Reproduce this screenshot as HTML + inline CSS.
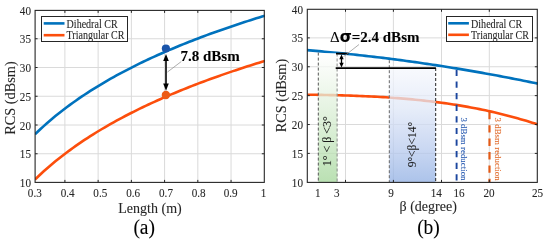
<!DOCTYPE html>
<html><head><meta charset="utf-8"><title>RCS figure</title>
<style>
html,body{margin:0;padding:0;background:#fff;width:550px;height:244px;overflow:hidden}
svg{display:block;filter:blur(0.35px)}
text{font-family:"Liberation Serif", "Times New Roman", serif;color:#262626;fill:currentColor;stroke:currentColor;stroke-width:0.2px;stroke-opacity:0.4}
</style></head><body>
<svg width="550" height="244" viewBox="0 0 550 244">
<defs>
<linearGradient id="gG" x1="0" y1="0" x2="0" y2="1">
<stop offset="0" stop-color="#ffffff"/><stop offset="0.2" stop-color="#f0f8ee"/><stop offset="0.6" stop-color="#cde9c7"/><stop offset="1" stop-color="#a3d699"/>
</linearGradient>
<linearGradient id="gB" x1="0" y1="0" x2="0" y2="1">
<stop offset="0" stop-color="#f6f8fd"/><stop offset="0.35" stop-color="#dfe7f7"/><stop offset="0.7" stop-color="#b9cbee"/><stop offset="1" stop-color="#90afe3"/>
</linearGradient>
<clipPath id="cL"><rect x="35" y="10" width="230" height="173"/></clipPath>
<clipPath id="cR"><rect x="307" y="9" width="231" height="174"/></clipPath>
</defs>
<rect width="550" height="244" fill="#fff"/>

<line x1="64.90" y1="10.4" x2="64.90" y2="182.4" stroke="#dadada" stroke-width="1"/>
<line x1="98.13" y1="10.4" x2="98.13" y2="182.4" stroke="#dadada" stroke-width="1"/>
<line x1="131.36" y1="10.4" x2="131.36" y2="182.4" stroke="#dadada" stroke-width="1"/>
<line x1="164.59" y1="10.4" x2="164.59" y2="182.4" stroke="#dadada" stroke-width="1"/>
<line x1="197.82" y1="10.4" x2="197.82" y2="182.4" stroke="#dadada" stroke-width="1"/>
<line x1="231.05" y1="10.4" x2="231.05" y2="182.4" stroke="#dadada" stroke-width="1"/>
<line x1="35.1" y1="38.75" x2="264.3" y2="38.75" stroke="#dadada" stroke-width="1"/>
<line x1="35.1" y1="67.50" x2="264.3" y2="67.50" stroke="#dadada" stroke-width="1"/>
<line x1="35.1" y1="96.25" x2="264.3" y2="96.25" stroke="#dadada" stroke-width="1"/>
<line x1="35.1" y1="125.00" x2="264.3" y2="125.00" stroke="#dadada" stroke-width="1"/>
<line x1="35.1" y1="153.75" x2="264.3" y2="153.75" stroke="#dadada" stroke-width="1"/>
<g clip-path="url(#cL)">
<path d="M35.00,134.29 L37.91,131.48 L40.82,128.75 L43.73,126.10 L46.65,123.51 L49.56,120.98 L52.47,118.52 L55.38,116.11 L58.29,113.76 L61.20,111.46 L64.11,109.21 L67.03,107.01 L69.94,104.86 L72.85,102.75 L75.76,100.69 L78.67,98.66 L81.58,96.68 L84.49,94.73 L87.41,92.82 L90.32,90.95 L93.23,89.11 L96.14,87.30 L99.05,85.52 L101.96,83.78 L104.87,82.06 L107.78,80.37 L110.70,78.71 L113.61,77.08 L116.52,75.47 L119.43,73.88 L122.34,72.33 L125.25,70.79 L128.16,69.28 L131.08,67.79 L133.99,66.32 L136.90,64.87 L139.81,63.44 L142.72,62.03 L145.63,60.64 L148.54,59.27 L151.46,57.92 L154.37,56.59 L157.28,55.27 L160.19,53.97 L163.10,52.69 L166.01,51.42 L168.92,50.17 L171.84,48.93 L174.75,47.71 L177.66,46.50 L180.57,45.30 L183.48,44.13 L186.39,42.96 L189.30,41.81 L192.22,40.67 L195.13,39.54 L198.04,38.42 L200.95,37.32 L203.86,36.23 L206.77,35.15 L209.68,34.08 L212.59,33.02 L215.51,31.98 L218.42,30.94 L221.33,29.92 L224.24,28.90 L227.15,27.90 L230.06,26.90 L232.97,25.91 L235.89,24.94 L238.80,23.97 L241.71,23.01 L244.62,22.06 L247.53,21.12 L250.44,20.19 L253.35,19.27 L256.27,18.36 L259.18,17.45 L262.09,16.55 L265.00,15.66" fill="none" stroke="#0072BD" stroke-width="2.6"/>
<path d="M35.00,179.51 L37.91,176.70 L40.82,173.97 L43.73,171.32 L46.65,168.73 L49.56,166.20 L52.47,163.74 L55.38,161.33 L58.29,158.98 L61.20,156.68 L64.11,154.43 L67.03,152.23 L69.94,150.08 L72.85,147.97 L75.76,145.91 L78.67,143.88 L81.58,141.90 L84.49,139.95 L87.41,138.04 L90.32,136.17 L93.23,134.33 L96.14,132.52 L99.05,130.74 L101.96,129.00 L104.87,127.28 L107.78,125.59 L110.70,123.93 L113.61,122.30 L116.52,120.69 L119.43,119.10 L122.34,117.55 L125.25,116.01 L128.16,114.50 L131.08,113.01 L133.99,111.54 L136.90,110.09 L139.81,108.66 L142.72,107.25 L145.63,105.86 L148.54,104.49 L151.46,103.14 L154.37,101.81 L157.28,100.49 L160.19,99.19 L163.10,97.91 L166.01,96.64 L168.92,95.39 L171.84,94.15 L174.75,92.93 L177.66,91.72 L180.57,90.52 L183.48,89.35 L186.39,88.18 L189.30,87.03 L192.22,85.89 L195.13,84.76 L198.04,83.64 L200.95,82.54 L203.86,81.45 L206.77,80.37 L209.68,79.30 L212.59,78.24 L215.51,77.20 L218.42,76.16 L221.33,75.14 L224.24,74.12 L227.15,73.12 L230.06,72.12 L232.97,71.13 L235.89,70.16 L238.80,69.19 L241.71,68.23 L244.62,67.28 L247.53,66.34 L250.44,65.41 L253.35,64.49 L256.27,63.58 L259.18,62.67 L262.09,61.77 L265.00,60.88" fill="none" stroke="#FC4E0C" stroke-width="2.6"/>
</g>
<rect x="35.1" y="10.4" width="229.20000000000002" height="172.0" fill="none" stroke="#262626" stroke-width="1.1"/>
<line x1="64.90" y1="182.4" x2="64.90" y2="179.9" stroke="#262626"/>
<line x1="64.90" y1="10.4" x2="64.90" y2="12.9" stroke="#262626"/>
<line x1="98.13" y1="182.4" x2="98.13" y2="179.9" stroke="#262626"/>
<line x1="98.13" y1="10.4" x2="98.13" y2="12.9" stroke="#262626"/>
<line x1="131.36" y1="182.4" x2="131.36" y2="179.9" stroke="#262626"/>
<line x1="131.36" y1="10.4" x2="131.36" y2="12.9" stroke="#262626"/>
<line x1="164.59" y1="182.4" x2="164.59" y2="179.9" stroke="#262626"/>
<line x1="164.59" y1="10.4" x2="164.59" y2="12.9" stroke="#262626"/>
<line x1="197.82" y1="182.4" x2="197.82" y2="179.9" stroke="#262626"/>
<line x1="197.82" y1="10.4" x2="197.82" y2="12.9" stroke="#262626"/>
<line x1="231.05" y1="182.4" x2="231.05" y2="179.9" stroke="#262626"/>
<line x1="231.05" y1="10.4" x2="231.05" y2="12.9" stroke="#262626"/>
<line x1="35.1" y1="38.75" x2="37.6" y2="38.75" stroke="#262626"/>
<line x1="264.3" y1="38.75" x2="261.8" y2="38.75" stroke="#262626"/>
<line x1="35.1" y1="67.50" x2="37.6" y2="67.50" stroke="#262626"/>
<line x1="264.3" y1="67.50" x2="261.8" y2="67.50" stroke="#262626"/>
<line x1="35.1" y1="96.25" x2="37.6" y2="96.25" stroke="#262626"/>
<line x1="264.3" y1="96.25" x2="261.8" y2="96.25" stroke="#262626"/>
<line x1="35.1" y1="125.00" x2="37.6" y2="125.00" stroke="#262626"/>
<line x1="264.3" y1="125.00" x2="261.8" y2="125.00" stroke="#262626"/>
<line x1="35.1" y1="153.75" x2="37.6" y2="153.75" stroke="#262626"/>
<line x1="264.3" y1="153.75" x2="261.8" y2="153.75" stroke="#262626"/>
<text transform="translate(34.8,196.6) scale(0.9,1)" font-size="12.4" text-anchor="middle">0.3</text>
<text transform="translate(67.6,196.6) scale(0.9,1)" font-size="12.4" text-anchor="middle">0.4</text>
<text transform="translate(100.3,196.6) scale(0.9,1)" font-size="12.4" text-anchor="middle">0.5</text>
<text transform="translate(133.2,196.6) scale(0.9,1)" font-size="12.4" text-anchor="middle">0.6</text>
<text transform="translate(166,196.6) scale(0.9,1)" font-size="12.4" text-anchor="middle">0.7</text>
<text transform="translate(198.7,196.6) scale(0.9,1)" font-size="12.4" text-anchor="middle">0.8</text>
<text transform="translate(230.7,196.6) scale(0.9,1)" font-size="12.4" text-anchor="middle">0.9</text>
<text transform="translate(263.5,196.6) scale(0.9,1)" font-size="12.4" text-anchor="middle">1</text>
<text transform="translate(31,14.50) scale(0.9,1)" font-size="12.4" text-anchor="end">40</text>
<text transform="translate(31,43.25) scale(0.9,1)" font-size="12.4" text-anchor="end">35</text>
<text transform="translate(31,72.00) scale(0.9,1)" font-size="12.4" text-anchor="end">30</text>
<text transform="translate(31,100.75) scale(0.9,1)" font-size="12.4" text-anchor="end">25</text>
<text transform="translate(31,129.50) scale(0.9,1)" font-size="12.4" text-anchor="end">20</text>
<text transform="translate(31,158.25) scale(0.9,1)" font-size="12.4" text-anchor="end">15</text>
<text transform="translate(31,187.00) scale(0.9,1)" font-size="12.4" text-anchor="end">10</text>
<text transform="translate(15.4,98.1) rotate(-90)" font-size="14.3" text-anchor="middle">RCS (dBsm)</text>
<text x="150" y="212.7" font-size="14" text-anchor="middle">Length (m)</text>
<text transform="translate(144.2,234.0) scale(1,1.05)" font-size="19.5" text-anchor="middle" style="color:#000">(a)</text>
<rect x="41.5" y="16.5" width="86" height="25" fill="#fff" stroke="#262626" stroke-width="1"/>
<line x1="43.7" y1="23.4" x2="64.5" y2="23.4" stroke="#0072BD" stroke-width="2.6"/>
<line x1="43.7" y1="35.2" x2="64.5" y2="35.2" stroke="#FC4E0C" stroke-width="2.6"/>
<text x="66.6" y="27.6" font-size="11.8" textLength="51" lengthAdjust="spacingAndGlyphs">Dihedral CR</text>
<text x="66.6" y="38.9" font-size="11.8" textLength="57.9" lengthAdjust="spacingAndGlyphs">Triangular CR</text>
<line x1="167.4" y1="72.1" x2="181.3" y2="61.5" stroke="#8a8a8a" stroke-width="0.7"/>
<line x1="166" y1="58" x2="166" y2="87" stroke="#000" stroke-width="1.6"/>
<path d="M166,54 L163.2,61 L168.8,61 Z" fill="#000"/>
<path d="M166,90.7 L163.2,83.5 L168.8,83.5 Z" fill="#000"/>
<circle cx="165.9" cy="48.5" r="4.1" fill="#1a55aa"/>
<circle cx="165.9" cy="95" r="4.2" fill="#ec5a14"/>
<text x="180.5" y="60.6" font-size="15" font-weight="bold" style="color:#000">7.8 dBsm</text>
<line x1="345.5" y1="9.3" x2="345.5" y2="182.4" stroke="#dadada" stroke-width="1"/>
<line x1="393.4" y1="9.3" x2="393.4" y2="182.4" stroke="#dadada" stroke-width="1"/>
<line x1="441.5" y1="9.3" x2="441.5" y2="182.4" stroke="#dadada" stroke-width="1"/>
<line x1="489.3" y1="9.3" x2="489.3" y2="182.4" stroke="#dadada" stroke-width="1"/>
<line x1="307.3" y1="37.88" x2="537.3" y2="37.88" stroke="#dadada" stroke-width="1"/>
<line x1="307.3" y1="66.76" x2="537.3" y2="66.76" stroke="#dadada" stroke-width="1"/>
<line x1="307.3" y1="95.64" x2="537.3" y2="95.64" stroke="#dadada" stroke-width="1"/>
<line x1="307.3" y1="124.52" x2="537.3" y2="124.52" stroke="#dadada" stroke-width="1"/>
<line x1="307.3" y1="153.40" x2="537.3" y2="153.40" stroke="#dadada" stroke-width="1"/>
<g clip-path="url(#cR)">
<path d="M307.00,50.16 L309.92,50.40 L312.85,50.64 L315.77,50.89 L318.70,51.15 L321.62,51.40 L324.54,51.67 L327.47,51.93 L330.39,52.20 L333.32,52.48 L336.24,52.76 L339.16,53.05 L342.09,53.34 L345.01,53.63 L347.94,53.93 L350.86,54.24 L353.78,54.55 L356.71,54.86 L359.63,55.18 L362.56,55.51 L365.48,55.84 L368.41,56.17 L371.33,56.51 L374.25,56.85 L377.18,57.20 L380.10,57.55 L383.03,57.91 L385.95,58.27 L388.87,58.64 L391.80,59.01 L394.72,59.39 L397.65,59.77 L400.57,60.16 L403.49,60.55 L406.42,60.94 L409.34,61.34 L412.27,61.75 L415.19,62.16 L418.11,62.57 L421.04,62.99 L423.96,63.42 L426.89,63.85 L429.81,64.28 L432.73,64.72 L435.66,65.16 L438.58,65.61 L441.51,66.06 L444.43,66.52 L447.35,66.98 L450.28,67.45 L453.20,67.92 L456.13,68.40 L459.05,68.88 L461.97,69.37 L464.90,69.86 L467.82,70.35 L470.75,70.85 L473.67,71.36 L476.59,71.87 L479.52,72.38 L482.44,72.90 L485.37,73.43 L488.29,73.96 L491.22,74.49 L494.14,75.03 L497.06,75.57 L499.99,76.12 L502.91,76.68 L505.84,77.23 L508.76,77.80 L511.68,78.36 L514.61,78.93 L517.53,79.51 L520.46,80.09 L523.38,80.68 L526.30,81.27 L529.23,81.87 L532.15,82.47 L535.08,83.07 L538.00,83.68" fill="none" stroke="#0072BD" stroke-width="2.6"/>
<path d="M307.00,94.70 L309.92,94.74 L312.85,94.78 L315.77,94.82 L318.70,94.87 L321.62,94.92 L324.54,94.97 L327.47,95.03 L330.39,95.09 L333.32,95.15 L336.24,95.22 L339.16,95.30 L342.09,95.38 L345.01,95.46 L347.94,95.55 L350.86,95.65 L353.78,95.75 L356.71,95.85 L359.63,95.97 L362.56,96.09 L365.48,96.22 L368.41,96.35 L371.33,96.49 L374.25,96.64 L377.18,96.80 L380.10,96.97 L383.03,97.14 L385.95,97.32 L388.87,97.52 L391.80,97.72 L394.72,97.93 L397.65,98.15 L400.57,98.38 L403.49,98.61 L406.42,98.86 L409.34,99.12 L412.27,99.39 L415.19,99.68 L418.11,99.97 L421.04,100.27 L423.96,100.59 L426.89,100.92 L429.81,101.26 L432.73,101.61 L435.66,101.97 L438.58,102.35 L441.51,102.74 L444.43,103.15 L447.35,103.57 L450.28,104.00 L453.20,104.44 L456.13,104.90 L459.05,105.38 L461.97,105.87 L464.90,106.37 L467.82,106.89 L470.75,107.43 L473.67,107.98 L476.59,108.55 L479.52,109.13 L482.44,109.73 L485.37,110.35 L488.29,110.98 L491.22,111.63 L494.14,112.30 L497.06,112.98 L499.99,113.69 L502.91,114.41 L505.84,115.15 L508.76,115.91 L511.68,116.68 L514.61,117.48 L517.53,118.30 L520.46,119.13 L523.38,119.99 L526.30,120.86 L529.23,121.76 L532.15,122.67 L535.08,123.61 L538.00,124.57" fill="none" stroke="#FC4E0C" stroke-width="2.6"/>
</g>
<rect x="318.3" y="53.1" width="19.1" height="129.4" fill="url(#gG)" opacity="0.75"/>
<rect x="389.3" y="68" width="46.4" height="114.5" fill="url(#gB)" opacity="0.75"/>
<line x1="318.3" y1="52.6" x2="318.3" y2="182" stroke="#555" stroke-width="1" stroke-dasharray="3,2"/>
<line x1="337.1" y1="53.5" x2="337.1" y2="182" stroke="#8a8a8a" stroke-width="1" stroke-dasharray="3,2"/>
<line x1="389.3" y1="60.2" x2="389.3" y2="182" stroke="#666" stroke-width="1" stroke-dasharray="3,2"/>
<line x1="435.7" y1="68" x2="435.7" y2="182" stroke="#222" stroke-width="1" stroke-dasharray="3,2"/>
<line x1="456.6" y1="69.9" x2="456.6" y2="182" stroke="#1b469e" stroke-width="1.9" stroke-dasharray="6.2,5.4"/>
<line x1="489.5" y1="111.8" x2="489.5" y2="182" stroke="#e35a16" stroke-width="2.2" stroke-dasharray="7.4,6"/>
<line x1="335.7" y1="68.1" x2="435.9" y2="68.1" stroke="#000" stroke-width="1.8"/>
<line x1="336" y1="53.6" x2="348.5" y2="53.6" stroke="#000" stroke-width="1.8"/>
<line x1="341.5" y1="57" x2="341.5" y2="65" stroke="#000" stroke-width="1.3"/>
<path d="M341.5,54.4 L339.3,59.2 L343.7,59.2 Z" fill="#000"/>
<path d="M341.5,67.6 L339.3,62.8 L343.7,62.8 Z" fill="#000"/>
<line x1="343.5" y1="56.7" x2="359" y2="44.5" stroke="#8a8a8a" stroke-width="0.7"/>
<text x="330" y="42.3" font-size="15" font-weight="bold" style="color:#000"><tspan font-weight="normal">Δ</tspan><tspan style="font-family:'DejaVu Sans',sans-serif" font-size="15.5">σ</tspan>=2.4 dBsm</text>
<text transform="translate(330.8,141.2) rotate(-90)" font-size="12" text-anchor="middle" style="color:#1a1a1a">1° &lt; β &lt;3°</text>
<text transform="translate(416,144.6) rotate(-90)" font-size="11.5" text-anchor="middle" style="color:#1a1a1a">9°&lt;β&lt;14°</text>
<text transform="translate(460.9,117.4) rotate(90)" font-size="8.9" style="color:#2457b0">3 dBsm reduction</text>
<text transform="translate(494.5,117.6) rotate(90)" font-size="8.9" style="color:#e06a2a">3 dBsm reduction</text>
<rect x="307.3" y="9.3" width="229.99999999999994" height="173.1" fill="none" stroke="#262626" stroke-width="1.1"/>
<line x1="345.5" y1="182.4" x2="345.5" y2="179.9" stroke="#262626"/>
<line x1="345.5" y1="9.3" x2="345.5" y2="11.8" stroke="#262626"/>
<line x1="393.4" y1="182.4" x2="393.4" y2="179.9" stroke="#262626"/>
<line x1="393.4" y1="9.3" x2="393.4" y2="11.8" stroke="#262626"/>
<line x1="441.5" y1="182.4" x2="441.5" y2="179.9" stroke="#262626"/>
<line x1="441.5" y1="9.3" x2="441.5" y2="11.8" stroke="#262626"/>
<line x1="489.3" y1="182.4" x2="489.3" y2="179.9" stroke="#262626"/>
<line x1="489.3" y1="9.3" x2="489.3" y2="11.8" stroke="#262626"/>
<line x1="307.3" y1="37.88" x2="309.8" y2="37.88" stroke="#262626"/>
<line x1="537.3" y1="37.88" x2="534.8" y2="37.88" stroke="#262626"/>
<line x1="307.3" y1="66.76" x2="309.8" y2="66.76" stroke="#262626"/>
<line x1="537.3" y1="66.76" x2="534.8" y2="66.76" stroke="#262626"/>
<line x1="307.3" y1="95.64" x2="309.8" y2="95.64" stroke="#262626"/>
<line x1="537.3" y1="95.64" x2="534.8" y2="95.64" stroke="#262626"/>
<line x1="307.3" y1="124.52" x2="309.8" y2="124.52" stroke="#262626"/>
<line x1="537.3" y1="124.52" x2="534.8" y2="124.52" stroke="#262626"/>
<line x1="307.3" y1="153.40" x2="309.8" y2="153.40" stroke="#262626"/>
<line x1="537.3" y1="153.40" x2="534.8" y2="153.40" stroke="#262626"/>
<text transform="translate(317.8,196.6) scale(0.9,1)" font-size="12.4" text-anchor="middle">1</text>
<text transform="translate(336.8,196.6) scale(0.9,1)" font-size="12.4" text-anchor="middle">3</text>
<text transform="translate(391,196.6) scale(0.9,1)" font-size="12.4" text-anchor="middle">9</text>
<text transform="translate(436.2,196.6) scale(0.9,1)" font-size="12.4" text-anchor="middle">14</text>
<text transform="translate(459.1,196.6) scale(0.9,1)" font-size="12.4" text-anchor="middle">16</text>
<text transform="translate(489.1,196.6) scale(0.9,1)" font-size="12.4" text-anchor="middle">20</text>
<text transform="translate(537.5,196.6) scale(0.9,1)" font-size="12.4" text-anchor="middle">25</text>
<text transform="translate(303,13.50) scale(0.9,1)" font-size="12.4" text-anchor="end">40</text>
<text transform="translate(303,42.38) scale(0.9,1)" font-size="12.4" text-anchor="end">35</text>
<text transform="translate(303,71.26) scale(0.9,1)" font-size="12.4" text-anchor="end">30</text>
<text transform="translate(303,100.14) scale(0.9,1)" font-size="12.4" text-anchor="end">25</text>
<text transform="translate(303,129.02) scale(0.9,1)" font-size="12.4" text-anchor="end">20</text>
<text transform="translate(303,157.90) scale(0.9,1)" font-size="12.4" text-anchor="end">15</text>
<text transform="translate(303,186.78) scale(0.9,1)" font-size="12.4" text-anchor="end">10</text>
<text transform="translate(286.1,95.6) rotate(-90)" font-size="14.3" text-anchor="middle">RCS (dBsm)</text>
<text x="428.2" y="211" font-size="14" text-anchor="middle">β (degree)</text>
<text transform="translate(428.5,234.0) scale(1,1.05)" font-size="19.5" text-anchor="middle" style="color:#000">(b)</text>
<rect x="446.5" y="16.5" width="86" height="25" fill="#fff" stroke="#262626" stroke-width="1"/>
<line x1="448.2" y1="23.3" x2="468.9" y2="23.3" stroke="#0072BD" stroke-width="2.6"/>
<line x1="448.2" y1="34.8" x2="468.9" y2="34.8" stroke="#FC4E0C" stroke-width="2.6"/>
<text x="471" y="27.7" font-size="11.8" textLength="51.3" lengthAdjust="spacingAndGlyphs">Dihedral CR</text>
<text x="471" y="39.1" font-size="11.8" textLength="58" lengthAdjust="spacingAndGlyphs">Triangular CR</text>
</svg>
</body></html>
